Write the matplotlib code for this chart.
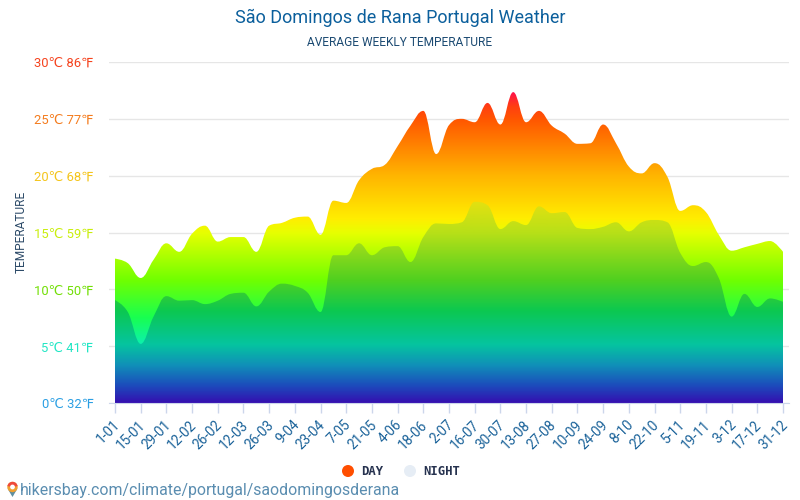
import numpy as np
import matplotlib
matplotlib.use('Agg')
import matplotlib.pyplot as plt
from matplotlib.colors import LinearSegmentedColormap
from matplotlib.path import Path
from matplotlib.patches import PathPatch, Circle, Polygon, Wedge
from matplotlib.transforms import ScaledTranslation

plt.rcParams['font.family'] = ['Roboto', 'DejaVu Sans']

# Weekly values, degrees C
day = [12.7, 12.3, 11.0, 12.6, 14.05, 13.3, 14.9, 15.6, 14.2, 14.6, 14.6, 13.3, 15.6,
       15.85, 16.3, 16.4, 14.8, 17.8, 17.6, 19.6, 20.6, 20.95, 22.6, 24.4, 25.7, 21.9,
       24.45, 25.0, 24.7, 26.4, 24.5, 27.35, 24.7, 25.7, 24.4, 23.7, 22.8, 22.85, 24.5,
       22.85, 20.8, 20.2, 21.1, 19.9, 16.9, 17.4, 16.8, 14.8, 13.4, 13.7, 14.0, 14.25, 13.3]
night = [9.05, 8.0, 5.2, 7.6, 9.4, 9.0, 9.05, 8.7, 9.0, 9.6, 9.7, 8.5, 9.8,
         10.5, 10.3, 9.7, 8.0, 13.0, 13.0, 14.05, 13.0, 13.7, 13.8, 12.4, 14.6, 15.8,
         15.75, 15.9, 17.7, 17.4, 15.3, 16.0, 15.65, 17.3, 16.7, 16.8, 15.4, 15.3, 15.5,
         15.9, 15.1, 15.9, 16.1, 15.9, 13.2, 12.05, 12.4, 11.0, 7.6, 9.6, 8.45, 9.2, 8.9]
date_labels = ['1-01', '15-01', '29-01', '12-02', '26-02', '12-03', '26-03', '9-04', '23-04',
               '7-05', '21-05', '4-06', '18-06', '2-07', '16-07', '30-07', '13-08', '27-08',
               '10-09', '24-09', '8-10', '22-10', '5-11', '19-11', '3-12', '17-12', '31-12']
temp_ticks = [0, 5, 10, 15, 20, 25, 30]
temp_labels = ['0℃ 32℉', '5℃ 41℉', '10℃ 50℉', '15℃ 59℉', '20℃ 68℉', '25℃ 77℉', '30℃ 86℉']
temp_colors = ['#2b9fe3', '#22e6c4', '#72df05', '#c9ee0c', '#f4c51c', '#f47c1e', '#f5431e']

day_cmap = LinearSegmentedColormap.from_list('day', [
    (0.0, '#3410b0'), (0.05, '#1e50c0'), (0.11, '#10a0c0'), (0.17, '#0cf0b0'), (0.25, '#18ff50'),
    (0.36, '#70ff00'), (0.5, '#e8ff00'), (0.54, '#ffee00'), (0.67, '#ffb400'), (0.74, '#ff8c00'),
    (0.83, '#ff5800'), (0.87, '#ff4010'), (0.91, '#ff1448'), (1.0, '#ff0060')])
night_cmap = LinearSegmentedColormap.from_list('night', [
    (0.0, '#3410b0'), (0.05, '#1c4cbc'), (0.11, '#1090b8'), (0.17, '#05c4a0'), (0.27, '#0cc850'),
    (0.36, '#50d020'), (0.5, '#b8e018'), (0.6, '#e8e010'), (1.0, '#e8e010')])


def spline_path(y_values, smoothing=1.5):
    # same control points as a smoothed area line, closed along the zero line
    x = np.arange(len(y_values))
    verts = [(x[0], 0), (x[0], y_values[0])]
    codes = [Path.MOVETO, Path.LINETO]
    right = (x[0], y_values[0])
    for i in range(1, len(x)):
        if i == len(x) - 1:
            left = (x[i], y_values[i])
            next_right = left
        else:
            lx = (smoothing * x[i] + x[i - 1]) / (smoothing + 1)
            ly = (smoothing * y_values[i] + y_values[i - 1]) / (smoothing + 1)
            rx = (smoothing * x[i] + x[i + 1]) / (smoothing + 1)
            ry = (smoothing * y_values[i] + y_values[i + 1]) / (smoothing + 1)
            corr = (ry - ly) * (rx - x[i]) / (rx - lx) + y_values[i] - ry
            ly += corr
            ry += corr
            # keep the curve from overshooting its neighbours
            if ly > y_values[i - 1] and ly > y_values[i]:
                ly = max(y_values[i - 1], y_values[i])
                ry = 2 * y_values[i] - ly
            elif ly < y_values[i - 1] and ly < y_values[i]:
                ly = min(y_values[i - 1], y_values[i])
                ry = 2 * y_values[i] - ly
            if ry > y_values[i + 1] and ry > y_values[i]:
                ry = max(y_values[i + 1], y_values[i])
                ly = 2 * y_values[i] - ry
            elif ry < y_values[i + 1] and ry < y_values[i]:
                ry = min(y_values[i + 1], y_values[i])
                ly = 2 * y_values[i] - ry
            left = (lx, ly)
            next_right = (rx, ry)
        verts += [right, left, (x[i], y_values[i])]
        codes += [Path.CURVE4] * 3
        right = next_right
    verts += [(x[-1], 0), (x[0], 0)]
    codes += [Path.LINETO, Path.CLOSEPOLY]
    return Path(verts, codes)


def gradient_area(ax, y_values, cmap):
    gradient = np.linspace(0, 1, 256).reshape(-1, 1)
    im = ax.imshow(gradient, cmap=cmap, origin='lower', aspect='auto',
                   extent=[0, len(y_values) - 1, 0, 30], zorder=2)
    patch = PathPatch(spline_path(y_values), transform=ax.transData, fc='none', ec='none')
    ax.add_patch(patch)
    im.set_clip_path(patch)


fig = plt.figure(figsize=(8, 5), dpi=100)
ax = fig.add_axes([109 / 800, 1 - 403 / 500, (789 - 109) / 800, (403 - 62) / 500])

gradient_area(ax, day, day_cmap)
gradient_area(ax, night, night_cmap)

# Axes
weeks = len(day) - 1
ax.set_xlim(-6 / 12.85, weeks + 6 / 12.85)
ax.set_ylim(0, 30)
ax.set_yticks(temp_ticks)
ax.set_yticklabels(temp_labels, fontsize=9.4)
for label, c in zip(ax.get_yticklabels(), temp_colors):
    label.set_color(c)
ax.tick_params(axis='y', length=0, pad=11)
ax.yaxis.grid(True, color='#e6e6e6', lw=1)
ax.set_axisbelow(True)

ax.set_xticks(np.arange(0, weeks + 1, 2))
ax.set_xticklabels(date_labels, rotation=45, ha='right', rotation_mode='anchor',
                   fontsize=9.8, color='#1a6299')
ax.tick_params(axis='x', length=7, width=1, color='#ccd6eb', pad=3)
shift = ScaledTranslation(-2.5 / 100, -1 / 100, fig.dpi_scale_trans)
for label in ax.get_xticklabels():
    label.set_transform(label.get_transform() + shift)
for name in ['top', 'right', 'left']:
    ax.spines[name].set_visible(False)
ax.spines['bottom'].set_color('#ccd6eb')

# Titles
fig.text(400 / 800, 1 - 18 / 500, 'São Domingos de Rana Portugal Weather', ha='center', va='center',
         fontsize=12.95, color='#0b5f9c')
fig.text(400 / 800, 1 - 42 / 500, 'AVERAGE WEEKLY TEMPERATURE', ha='center', va='center',
         fontsize=8.6, color='#1b4a72')
fig.text(21 / 800, 1 - 232 / 500, 'TEMPERATURE', rotation=90, ha='center', va='center',
         fontsize=8.6, color='#2c4a68')

# Legend
overlay = fig.add_axes([0, 0, 1, 1], facecolor='none')
overlay.set_xlim(0, 800)
overlay.set_ylim(500, 0)
overlay.axis('off')
overlay.add_patch(Circle((348, 471), 6, fc='#ff4e00', ec='none'))
overlay.add_patch(Circle((410, 471), 6, fc='#e6edf5', ec='none'))
overlay.text(361, 471.5, 'DAY', family='DejaVu Sans Mono', weight='bold', fontsize=8.8,
             color='#26324f', va='center')
overlay.text(423, 471.5, 'NIGHT', family='DejaVu Sans Mono', weight='bold', fontsize=8.8,
             color='#26324f', va='center')

# Footer with location pin
overlay.add_patch(Polygon([(7.5, 488.5), (17.5, 488.5), (12.5, 497)], fc='#5f8fa0', ec='none'))
overlay.add_patch(Circle((12.5, 487), 5.2, fc='#f0a030', ec='none'))
overlay.add_patch(Wedge((12.5, 487), 5.2, 190, 350, fc='#ee4a3c', ec='none'))
overlay.add_patch(Circle((12.5, 487), 2.4, fc='white', ec='none'))
overlay.text(20, 490, 'hikersbay.com/climate/portugal/saodomingosderana', fontsize=11.45,
             color='#5a8db0', va='center')

fig.savefig('out.png', dpi=100)
